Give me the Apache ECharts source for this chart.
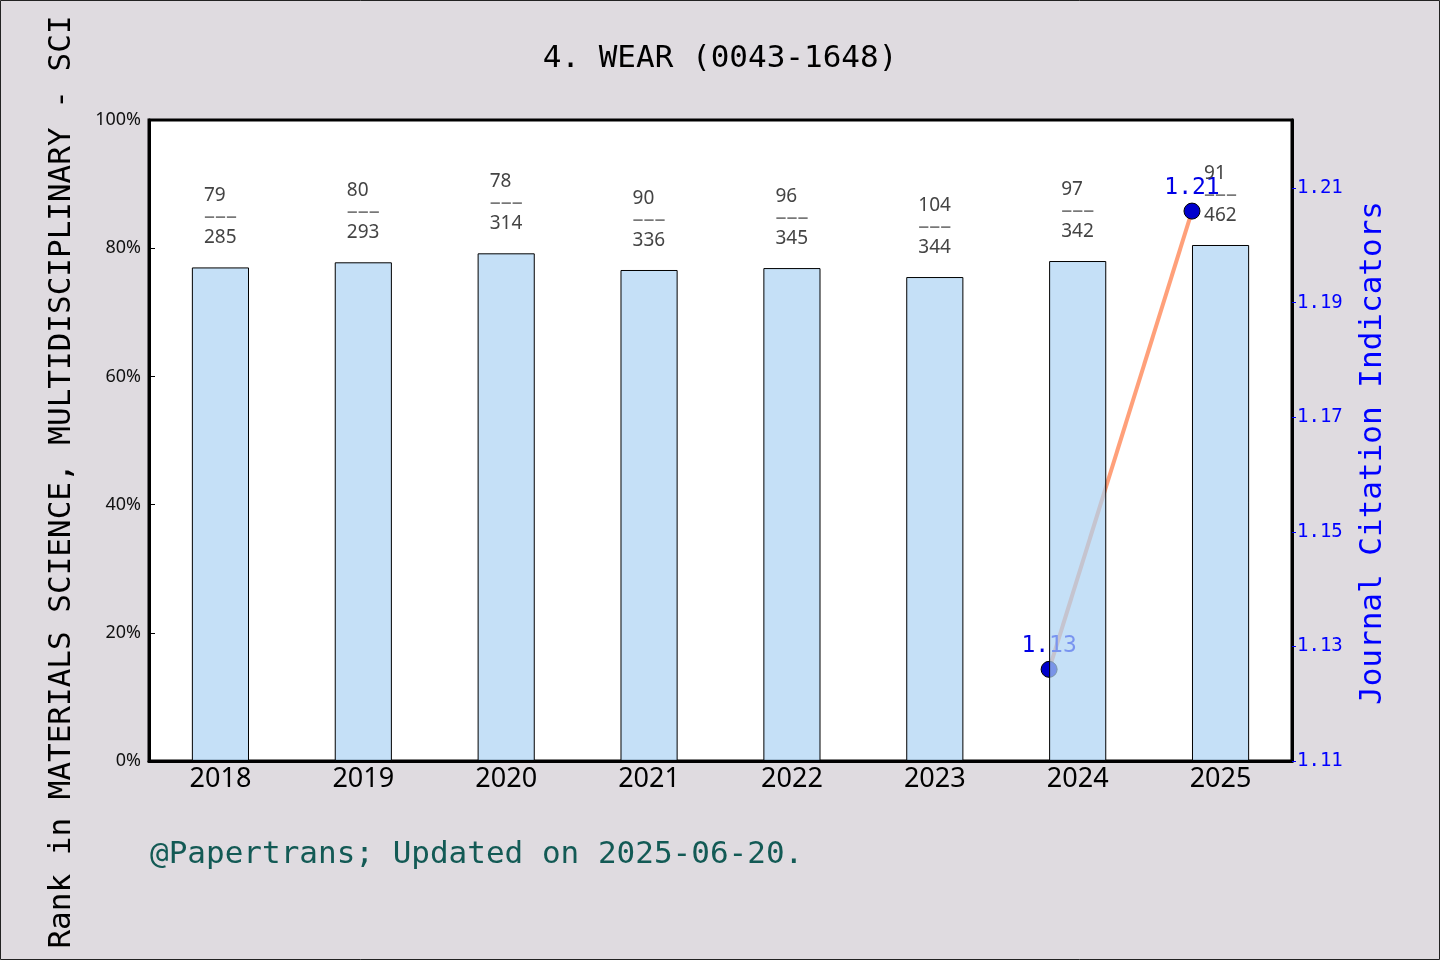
<!DOCTYPE html>
<html lang="en">
<head>
    <meta charset="UTF-8">
    <title>WEAR rank</title>
    <script src="https://cdn.jsdelivr.net/npm/echarts@6/dist/echarts.min.js"></script>
    <style>
        html, body {
            margin: 0;
            padding: 0;
            background: #dfdbe0;
        }
        #chart {
            width: 1440px;
            height: 960px;
        }
    </style>
</head>
<body>
<div id="chart"></div>
<script>
    // data
    const years = ['2018', '2019', '2020', '2021', '2022', '2023', '2024', '2025'];
    const rankPct = [77.0, 77.8, 79.2, 76.6, 76.9, 75.5, 78.0, 80.5];
    const ranks = [79, 80, 78, 90, 96, 104, 97, 91];
    const totals = [285, 293, 314, 336, 345, 344, 342, 462];
    const jciYears = ['2024', '2025'];
    const jciValues = [1.126, 1.206];
    const leftTicks = [0, 100, 20];
    const rightTicks = [1.11, 1.2219, 0.02];

    const mono = 'DejaVu Sans Mono';
    const sans = 'Noto Sans';
    const barFrac = 0.4;

    // line points sit at the left edge of each bar
    let jciData = jciYears.map(function (y, i) {
        let idx = years.indexOf(y);
        return [idx + 0.5 - barFrac / 2, jciValues[i]];
    });

    let chart = echarts.init(document.getElementById('chart'));
    let option = {
        backgroundColor: '#dfdbe0',
        animation: false,
        title: {
            text: '4. WEAR (0043-1648)',
            left: 'center',
            top: 43,
            padding: 0,
            textStyle: {
                fontFamily: mono,
                fontSize: 31,
                fontWeight: 'normal',
                color: '#000'
            }
        },
        grid: {
            left: 149,
            right: 148,
            top: 120,
            bottom: 199,
            show: true,
            backgroundColor: '#fff',
            borderColor: '#000',
            borderWidth: 3
        },
        xAxis: [
            {
                type: 'category',
                data: years,
                boundaryGap: true,
                axisLine: {lineStyle: {color: '#000', width: 3}},
                axisTick: {inside: true, length: 6, lineStyle: {color: '#000', width: 1}},
                axisLabel: {fontFamily: sans, fontSize: 27, color: '#000', margin: 5},
                splitLine: {show: false}
            },
            {
                type: 'value',
                min: 0,
                max: years.length,
                show: false
            }
        ],
        yAxis: [
            {
                type: 'value',
                min: leftTicks[0],
                max: leftTicks[1],
                interval: leftTicks[2],
                axisLine: {show: true, lineStyle: {color: '#000', width: 3}},
                axisTick: {show: true, inside: true, length: 6, lineStyle: {color: '#000', width: 1}},
                axisLabel: {formatter: '{value}%', fontFamily: sans, fontSize: 18, color: '#111', margin: 8},
                splitLine: {show: false}
            },
            {
                type: 'value',
                position: 'right',
                min: rightTicks[0],
                max: rightTicks[1],
                interval: rightTicks[2],
                axisLine: {show: true, lineStyle: {color: '#000', width: 3}},
                axisTick: {show: true, length: 4, lineStyle: {color: '#0000ff', width: 1}},
                axisLabel: {
                    showMaxLabel: false,
                    formatter: function (v) {
                        return v.toFixed(2);
                    },
                    fontFamily: mono,
                    fontSize: 19,
                    color: '#0000ff',
                    margin: 5
                },
                splitLine: {show: false}
            }
        ],
        series: [
            {
                name: 'JCI',
                type: 'line',
                xAxisIndex: 1,
                yAxisIndex: 1,
                z: 2,
                data: jciData,
                symbol: 'circle',
                symbolSize: 16,
                lineStyle: {color: '#ffa07a', width: 4},
                itemStyle: {color: '#0000cd', borderColor: '#000', borderWidth: 1},
                label: {
                    show: true,
                    position: 'top',
                    distance: 3,
                    formatter: function (p) {
                        return p.value[1].toFixed(2);
                    },
                    fontFamily: mono,
                    fontSize: 23,
                    color: '#0000e6'
                }
            },
            {
                name: 'Rank',
                type: 'bar',
                xAxisIndex: 0,
                yAxisIndex: 0,
                z: 3,
                barWidth: (barFrac * 100) + '%',
                data: rankPct,
                itemStyle: {
                    color: 'rgba(173,211,244,0.7)',
                    borderColor: '#000',
                    borderWidth: 1
                },
                label: {
                    show: true,
                    position: 'top',
                    distance: 19,
                    formatter: function (p) {
                        return '{a|' + ranks[p.dataIndex] + '}\n{b|–––}\n{a|' + totals[p.dataIndex] + '}';
                    },
                    rich: {
                        a: {fontFamily: sans, fontSize: 19, color: '#444', lineHeight: 21, width: 33, align: 'left'},
                        b: {fontFamily: sans, fontSize: 22, color: '#777', lineHeight: 21, width: 33, align: 'left'}
                    }
                }
            }
        ],
        graphic: [
            {
                type: 'text',
                x: 62,
                y: 482,
                rotation: Math.PI / 2,
                silent: true,
                style: {
                    text: 'Rank in MATERIALS SCIENCE, MULTIDISCIPLINARY - SCI',
                    fontFamily: mono,
                    fontSize: 31,
                    fill: '#000',
                    align: 'center',
                    verticalAlign: 'middle'
                }
            },
            {
                type: 'text',
                x: 1373,
                y: 453,
                rotation: Math.PI / 2,
                silent: true,
                style: {
                    text: 'Journal Citation Indicators',
                    fontFamily: mono,
                    fontSize: 31,
                    fill: '#0000ff',
                    align: 'center',
                    verticalAlign: 'middle'
                }
            },
            {
                type: 'text',
                x: 150,
                y: 855,
                silent: true,
                style: {
                    text: '@Papertrans; Updated on 2025-06-20.',
                    fontFamily: mono,
                    fontSize: 31,
                    fill: '#135a55',
                    align: 'left',
                    verticalAlign: 'middle'
                }
            },
            {
                type: 'rect',
                silent: true,
                shape: {x: 0.5, y: 0.5, width: 1439, height: 959},
                style: {fill: 'none', stroke: '#222', lineWidth: 1}
            }
        ]
    };
    chart.setOption(option);
</script>
</body>
</html>
